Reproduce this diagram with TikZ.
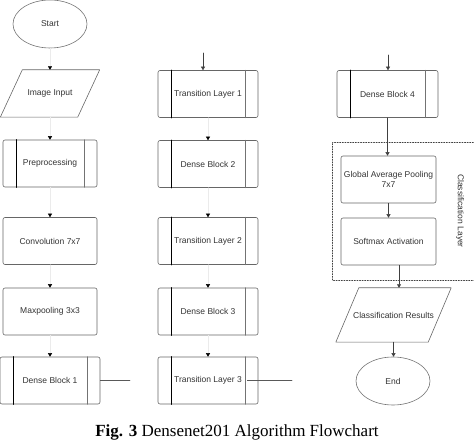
\documentclass[tikz,border=0pt]{standalone}
\usepackage{fontspec}
\setmainfont{Liberation Serif}
\setsansfont{Liberation Sans}
\usetikzlibrary{positioning,arrows.meta,shapes.geometric}

\begin{document}
\begin{tikzpicture}[x=1pt, y=-1pt, >={Triangle[length=3.5pt,width=4pt]}, line cap=round, line join=round,
  font=\sffamily\fontsize{8.5}{10}\selectfont,
  stepbox/.style={draw=black!60, line width=0.6pt, rounded corners=2pt, minimum width=100pt, minimum height=47pt, inner sep=1pt, text=black!80, align=center},
  termbox/.style={ellipse, draw=black!55, line width=0.6pt, minimum width=74pt, minimum height=48pt, inner sep=0pt, text=black!80},
  iobox/.style={minimum height=47pt, inner sep=1pt, text=black!80},
  ioline/.style={draw=black!60, line width=0.6pt},
  flow/.style={->, draw=black!75, line width=0.5pt},
  faint/.style={-{Triangle[length=3.5pt,width=4pt,black]}, draw=black!8, line width=0.4pt},
  stub/.style={draw=black!65, line width=0.5pt}]
  \useasboundingbox (0,0) rectangle (474,443);

  % left column
  \node[termbox] (start) at (50,24) {Start};
  \node[iobox, minimum width=99pt] (input) at (50,93.5) {Image Input};
  \node[stepbox, minimum width=94pt] (prep) at (50,163.5) {Preprocessing};
  \node[stepbox, minimum width=94pt] (conv) at (50,241) {Convolution 7x7};
  \node[stepbox, minimum width=94pt] (maxp) at (50,311.5) {Maxpooling 3x3};
  \node[stepbox] (db1) at (50,380.5) {Dense Block 1};
  \coordinate (db1out) at (130,380.5);

  % middle column
  \coordinate (tl1in) at (203,53);
  \node[stepbox] (tl1) at (208,94) {Transition Layer 1};
  \node[stepbox] (db2) at (208,164) {Dense Block 2};
  \node[stepbox] (tl2) at (208,241) {Transition Layer 2};
  \node[stepbox] (db3) at (208,311.5) {Dense Block 3};
  \node[stepbox] (tl3) at (208,380.5) {Transition Layer 3};
  \coordinate (tl3out) at (292,380.5);

  % right column
  \coordinate (db4in) at (388,55);
  \node[stepbox, minimum width=101pt] (db4) at (387.5,94) {Dense Block 4};
  \node[stepbox, minimum width=95pt] (gap) at (388.5,179.5) {Global Average Pooling\\7x7};
  \node[stepbox, minimum width=95pt] (soft) at (388.5,241.5) {Softmax Activation};
  \node[iobox, minimum width=115pt, minimum height=54pt] (res) at (393.5,315) {Classification Results};
  \node[termbox, minimum width=74pt, minimum height=48pt] (end) at (393,381) {End};

  % slanted input/output shapes
  \draw[ioline] ([xshift=22pt]input.north west) -- (input.north east) -- ([xshift=-22pt]input.south east) -- (input.south west) -- cycle;
  \draw[ioline] ([xshift=23pt]res.north west) -- (res.north east) -- ([xshift=-23pt]res.south east) -- (res.south west) -- cycle;

  % classification layer frame
  \draw[black!75, line width=0.6pt, dash pattern=on 1.2pt off 1.4pt] (476,142) -| (332,280) -- (476,280);
  \node[rotate=-90, text=black!80] (clslabel) at (460,211) {Classification Layer};

  % inner bars of the process boxes
  \foreach \n in {prep,db1,tl1,db2,tl2,db3,tl3,db4} {
    \draw[black, line width=1.1pt] ([xshift=13.5pt]\n.north west) -- ([xshift=13.5pt]\n.south west);
    \draw[black!55, line width=0.5pt] ([xshift=-13.5pt]\n.north east) -- ([xshift=-13.5pt]\n.south east);
  }

  % connectors
  \draw[faint] (start) -- (input);
  \draw[faint] (input) -- (prep);
  \draw[faint] (prep) -- (conv);
  \draw[faint] (conv) -- (maxp);
  \draw[faint] (maxp) -- (db1);
  \draw[stub] (db1.east) -- (db1out);
  \draw[flow] (tl1in) -- (tl1in |- tl1.north);
  \draw[faint] (tl1) -- (db2);
  \draw[faint] (db2) -- (tl2);
  \draw[faint] (tl2) -- (db3);
  \draw[faint] (db3) -- (tl3);
  \draw[stub] ([xshift=-11pt]tl3.east) -- (tl3out);
  \draw[flow] (db4in) -- (db4in |- db4.north);
  \draw[flow] (db4.south) -- (db4.south |- gap.north);
  \draw[flow] (gap) -- (soft);
  \draw[flow] ([xshift=10.5pt]soft.south) -- ([xshift=10.5pt]soft.south |- res.north);
  \draw[flow] (res.south) -- (res.south |- end.north);

  \node[anchor=base, font=\rmfamily\fontsize{17}{20}\selectfont] (caption) at (237,436) {\textbf{Fig. 3} Densenet201 Algorithm Flowchart};
\end{tikzpicture}
\end{document}
